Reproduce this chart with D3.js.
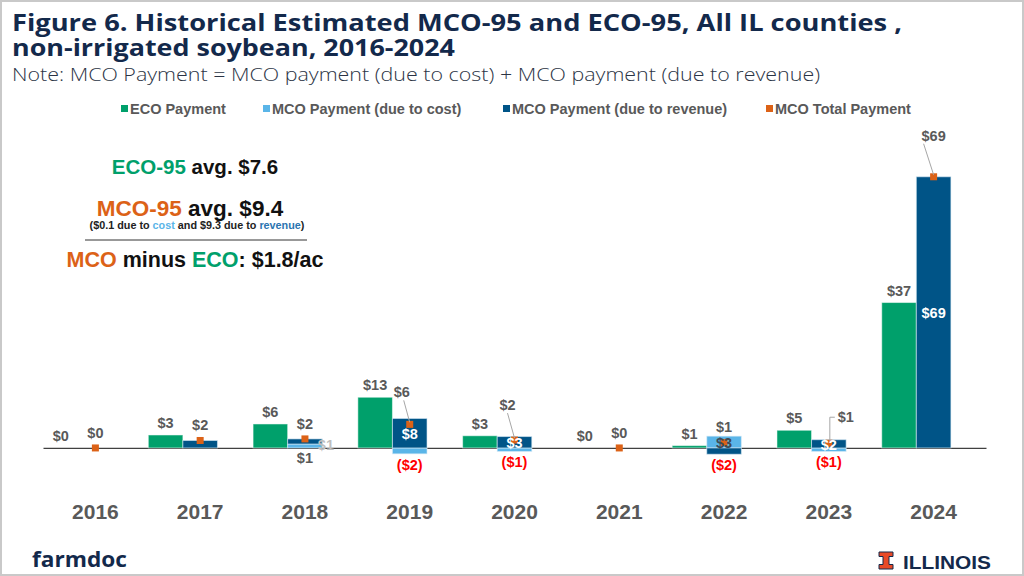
<!DOCTYPE html>
<html>
<head>
<meta charset="utf-8">
<script src="https://cdn.jsdelivr.net/npm/d3@7"></script>
<style>
  body { margin: 0; background: #fff; }
  svg { display: block; font-family: "Liberation Sans", Arial, sans-serif; }
</style>
</head>
<body>
<div id="chart"></div>
<script>
// data ($/acre)
const years = ["2016", "2017", "2018", "2019", "2020", "2021", "2022", "2023", "2024"];
const ecoPayment = [0, 3.3, 6.1, 12.9, 3.1, 0, 0.6, 4.5, 37];
const mcoCost = [0, 0, 1.0, -1.5, -0.9, 0, 3.0, -0.9, 0];
const mcoRevenue = [0, 1.9, 1.3, 7.5, 2.9, 0, -1.6, 2.1, 69];
const mcoTotal = [0, 1.9, 2.3, 6.0, 2.0, 0, 1.4, 1.2, 69];
const seriesNames = ["ECO Payment", "MCO Payment (due to cost)", "MCO Payment (due to revenue)", "MCO Total Payment"];

const width = 1024, height = 576;
const colors = { eco: "#00A06B", cost: "#5AB5E8", revenue: "#005487", total: "#DC6217" };
const labelGray = "#595959";

const svg = d3.select("#chart").append("svg")
    .attr("width", width).attr("height", height);

// frame
svg.append("rect").attr("x", 1).attr("y", 1).attr("width", width - 2).attr("height", height - 2)
    .attr("fill", "#fff").attr("stroke", "#C9C9C9").attr("stroke-width", 2);

// title + note
const title = svg.append("g").attr("fill", "#13294B").style("font-family", "'Open Sans', sans-serif");
title.append("text").attr("x", 12).attr("y", 31).attr("font-size", 23).attr("font-weight", 700)
    .attr("textLength", 890).attr("lengthAdjust", "spacingAndGlyphs")
    .text("Figure 6. Historical Estimated MCO-95 and ECO-95, All IL counties ,");
title.append("text").attr("x", 12).attr("y", 56).attr("font-size", 23).attr("font-weight", 700)
    .attr("textLength", 443).attr("lengthAdjust", "spacingAndGlyphs")
    .text("non-irrigated soybean, 2016-2024");
title.append("text").attr("x", 12).attr("y", 81).attr("font-size", 17.5).attr("font-weight", 300)
    .attr("fill", "#2b3445")
    .attr("textLength", 808).attr("lengthAdjust", "spacingAndGlyphs")
    .text("Note: MCO Payment = MCO payment (due to cost) + MCO payment (due to revenue)");

// scales
const x = d3.scaleBand().domain(years).range([43, 986]);
const y = d3.scaleLinear().domain([-5, 75]).range([467.6, 153.2]);
const barW = x.step() * 0.33;
const cx = d => x(d) + x.bandwidth() / 2;

const rows = years.map((yr, i) => ({
    year: yr, eco: ecoPayment[i], cost: mcoCost[i], revenue: mcoRevenue[i], total: mcoTotal[i]
}));
const stacked = d3.stack().keys(["cost", "revenue"]).offset(d3.stackOffsetDiverging)(rows);

const fmt = v => v < 0 ? "($" + Math.round(-v) + ")" : "$" + Math.round(v);

// axis
const axis = svg.append("g")
    .attr("transform", `translate(0,${y(0)})`)
    .call(d3.axisBottom(x).tickSize(0).tickPadding(56));
axis.select(".domain").attr("stroke", "#404040").attr("stroke-width", 1.2);
axis.selectAll(".tick text")
    .attr("font-size", 21).attr("font-weight", 700).attr("fill", labelGray)
    .style("font-family", "'Liberation Sans', Arial, sans-serif");

// bars
const plot = svg.append("g");
plot.selectAll(".eco").data(rows).join("rect")
    .attr("class", "eco")
    .attr("x", d => cx(d.year) - 1.5 * barW)
    .attr("y", d => y(Math.max(d.eco, 0)))
    .attr("width", barW)
    .attr("height", d => Math.abs(y(d.eco) - y(0)))
    .attr("fill", colors.eco)
    .attr("stroke", "#fff").attr("stroke-opacity", 0.5);

stacked.forEach(layer => {
    plot.selectAll(".s-" + layer.key).data(layer).join("rect")
        .attr("class", "s-" + layer.key)
        .attr("x", d => cx(d.data.year) - 0.5 * barW)
        .attr("y", d => y(d[1]))
        .attr("width", barW)
        .attr("height", d => y(d[0]) - y(d[1]))
        .attr("fill", colors[layer.key])
        .attr("stroke", "#dcecf7").attr("stroke-opacity", 0.6);
});

const leaders = svg.append("g").attr("fill", "none").attr("stroke", "#A6A6A6").attr("stroke-width", 1);

// total markers
plot.selectAll(".total").data(rows).join("rect")
    .attr("class", "total")
    .attr("x", d => cx(d.year) - 3.5).attr("y", d => y(d.total) - 3.5)
    .attr("width", 7).attr("height", 7)
    .attr("fill", colors.total);

// labels
const labels = svg.append("g").attr("font-size", 14.5).attr("font-weight", 700)
    .attr("text-anchor", "middle").attr("dominant-baseline", "central");

labels.selectAll(".eco-lab").data(rows).join("text")
    .attr("class", "eco-lab")
    .attr("x", d => cx(d.year) - barW)
    .attr("y", d => y(Math.max(d.eco, 0)) - 12)
    .attr("fill", labelGray)
    .text(d => fmt(d.eco));

// segment labels: in / below / special
const segPlace = { "2017": { revenue: "none" }, "2018": { revenue: "under", cost: "right" } };
stacked.forEach(layer => {
    layer.forEach(d => {
        const v = d.data[layer.key];
        if (v === 0) return;
        const mode = (segPlace[d.data.year] || {})[layer.key] || (v > 0 ? "in" : "below");
        if (mode === "none") return;
        const px = cx(d.data.year);
        let lx = px, ly, fill;
        if (mode === "in") {
            ly = (y(d[0]) + y(d[1])) / 2 + 1;
            fill = layer.key === "revenue" ? "#fff" : "#3f4a55";
        } else if (mode === "below") {
            ly = y(d[0]) + 11;
            fill = "#FF0000";
        } else if (mode === "under") {
            ly = y(0) + 10;
            fill = labelGray;
        } else {
            lx = px + 21; ly = y(d[1]) + 1;
            fill = "#BFBFBF";
        }
        labels.append("text").attr("x", lx).attr("y", ly).attr("fill", fill).text(fmt(v));
    });
});

// total labels, some moved out with leader lines
const callouts = {
    "2019": { dx: -8, dy: -32, sx: 2 },
    "2020": { dx: -7, dy: -35, sx: 0 },
    "2023": { dx: 17, dy: -26, elbow: true },
    "2024": { dx: 0, dy: -41, sx: -10 }
};
rows.forEach(d => {
    const mx = cx(d.year), my = y(d.total);
    const c = callouts[d.year];
    const lx = mx + (c ? c.dx : 0), ly = my + (c ? c.dy : -15);
    if (c) {
        const path = c.elbow
            ? `M${lx - 11},${ly}H${mx + 1}V${my - 2}`
            : `M${lx + c.sx},${ly + 8}L${mx},${my - 2}`;
        leaders.append("path").attr("d", path);
    }
    labels.append("text").attr("x", lx).attr("y", ly).attr("fill", labelGray).text(fmt(d.total));
});

// legend
const legendX = [121, 263, 503, 766];
const legendColors = [colors.eco, colors.cost, colors.revenue, colors.total];
const legend = svg.append("g").attr("font-size", 14.5).attr("font-weight", 700).attr("fill", labelGray);
seriesNames.forEach((name, i) => {
    legend.append("rect").attr("x", legendX[i]).attr("y", 105).attr("width", 7).attr("height", 7)
        .attr("fill", legendColors[i]);
    legend.append("text").attr("x", legendX[i] + 9).attr("y", 114).text(name);
});

// summary box
const note = svg.append("g").attr("font-weight", 700).attr("text-anchor", "middle").attr("fill", "#111");
const t1 = note.append("text").attr("x", 195).attr("y", 174).attr("font-size", 20.5);
t1.append("tspan").attr("fill", colors.eco).text("ECO-95");
t1.append("tspan").text(" avg. $7.6");
const t2 = note.append("text").attr("x", 190).attr("y", 216).attr("font-size", 22.5);
t2.append("tspan").attr("fill", colors.total).text("MCO-95");
t2.append("tspan").text(" avg. $9.4");
const t3 = note.append("text").attr("x", 197).attr("y", 229).attr("font-size", 10.8).attr("fill", "#222");
t3.append("tspan").text("($0.1 due to ");
t3.append("tspan").attr("fill", colors.cost).text("cost");
t3.append("tspan").text("  and $9.3 due to ");
t3.append("tspan").attr("fill", "#2A74B0").text("revenue");
t3.append("tspan").text(")");
svg.append("line").attr("x1", 85).attr("x2", 307).attr("y1", 240).attr("y2", 240)
    .attr("stroke", "#333").attr("stroke-width", 1);
const t4 = note.append("text").attr("x", 195).attr("y", 267).attr("font-size", 21.5);
t4.append("tspan").attr("fill", colors.total).text("MCO");
t4.append("tspan").text(" minus ");
t4.append("tspan").attr("fill", colors.eco).text("ECO");
t4.append("tspan").text(": $1.8/ac");

// footer logos
svg.append("text").attr("x", 32).attr("y", 567).attr("font-size", 22).attr("font-weight", 700)
    .style("font-family", "'Open Sans', sans-serif").attr("fill", "#13294B")
    .attr("textLength", 95).attr("lengthAdjust", "spacingAndGlyphs").text("farmdoc");
svg.append("path")
    .attr("d", "M879,552H893V556.5H889V564.5H893V569H879V564.5H883V556.5H879Z")
    .attr("fill", "#E84A27").attr("stroke", "#13294B").attr("stroke-width", 1);
svg.append("text").attr("x", 903).attr("y", 568.5).attr("font-size", 17.5).attr("font-weight", 700)
    .attr("fill", "#13294B").attr("textLength", 88).attr("lengthAdjust", "spacingAndGlyphs")
    .text("ILLINOIS");
</script>
</body>
</html>
